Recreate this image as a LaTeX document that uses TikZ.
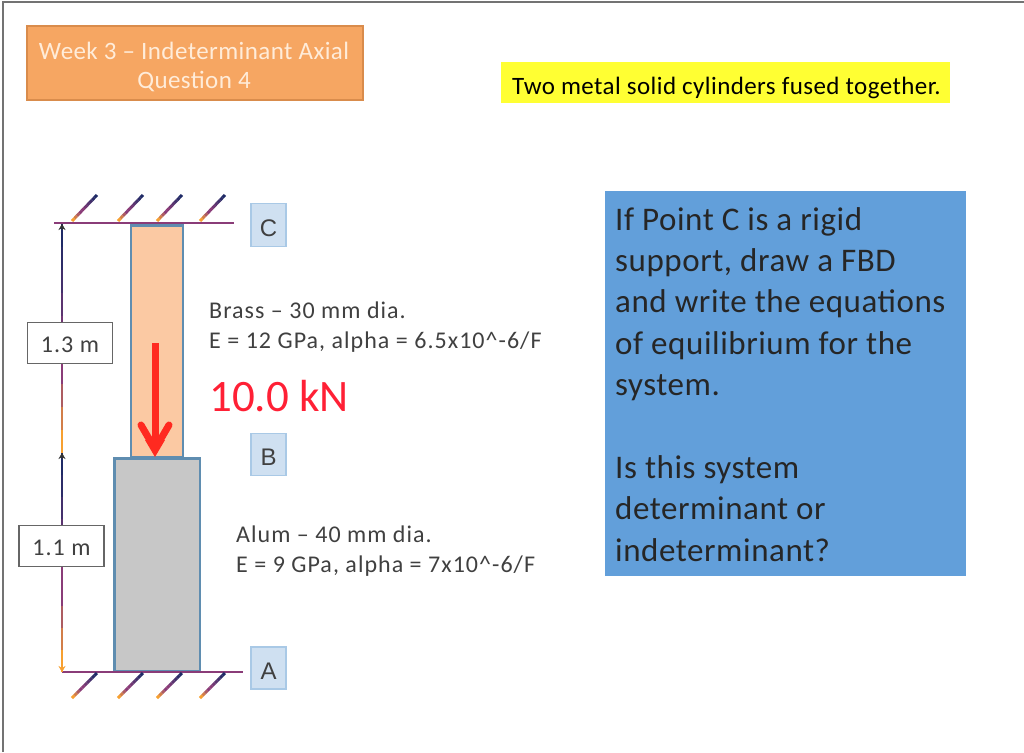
\documentclass[tikz,border=0pt]{standalone}
\usepackage{fontspec}
\setmainfont{Carlito}
\newfontfamily\lblfont{Liberation Sans}
\newfontfamily\widefont[LetterSpace=4.3]{Carlito}
\newfontfamily\slightfont[LetterSpace=1.7]{Carlito}
\usetikzlibrary{arrows.meta}
\usetikzlibrary{calc}
\definecolor{rod_edge}{HTML}{5F8DB0}
\definecolor{lbl_fill}{HTML}{CFE0F1}
\definecolor{lbl_edge}{HTML}{A9C9E6}
\definecolor{txt_grey}{HTML}{404040}
\definecolor{line_top}{HTML}{1F2A66}
\definecolor{line_mid}{HTML}{8A3C78}
\definecolor{line_end}{HTML}{F7A030}
\definecolor{title_fill}{HTML}{F6A662}
\definecolor{title_edge}{HTML}{D98C4C}
\definecolor{task_fill}{HTML}{629FDA}
\definecolor{brass_fill}{HTML}{FBC9A3}
\definecolor{note_fill}{HTML}{FFFF33}
\definecolor{load_red}{HTML}{FF2A20}
\definecolor{force_red}{HTML}{FF2035}
\tikzset{
	txtnode/.style = {align=left, inner sep=0pt, anchor=west, text=txt_grey},
	rod_b/.style = {rectangle, draw=rod_edge, line width=2.5pt, fill=#1, inner sep=0pt, anchor=north west},% cylinder
	lbl_p/.style = {rectangle, draw=lbl_edge, line width=1.2pt, fill=lbl_fill, minimum width=35pt,
		minimum height=42pt, inner sep=0pt, text=txt_grey, text height=22pt, text depth=0pt,
		font=\lblfont\fontsize{24}{24}\selectfont},% point letter
	lbl_d/.style = {rectangle, draw=black!60, line width=1.3pt, fill=white, minimum width=85pt,
		minimum height=41pt, inner sep=0pt, text=txt_grey, text height=22pt, text depth=4pt,
		font=\widefont\fontsize{24}{24}\selectfont},% dimension box
	wall/.style = {line_mid, line width=2.8pt},
	loadline/.style = {load_red, line width=7pt}
}
% line that runs from orange to navy, first point is the orange end
\newcommand{\gradline}[3]{%
	\foreach \s in {0,...,9}{
		\pgfmathtruncatemacro{\e}{\s+1}
		\pgfmathtruncatemacro{\pa}{min(100,\s*34)}
		\pgfmathtruncatemacro{\pb}{min(100,max(0,(\s-4)*22))}
		\colorlet{segcol}{line_top!\pb!line_mid!\pa!line_end}
		\draw[segcol, line width=#3] ($(#1)!\s/10!(#2)$) -- ($(#1)!\e/10!(#2)$);
	}
}
\begin{document}
\begin{tikzpicture}[x=1pt,y=-1pt]
	\useasboundingbox (0,0) rectangle (1024,752);
	\draw[black!55, line width=2pt] (3,752) -- (3,2) -- (1024,2);

	\node [rectangle, draw=title_edge, line width=1.5pt, fill=title_fill, minimum width=336pt, minimum height=74pt,
		inner sep=0pt] (title) at (195,63) {};
	\node [inner sep=0pt, align=center, text=white!85!orange, font=\slightfont\fontsize{25}{29.5}\selectfont] (titletxt) at (194,67)
		{Week 3 – Indeterminant Axial\\Question 4};
	\node [rectangle, fill=note_fill, minimum width=449pt, minimum height=41pt, inner sep=0pt] (note) at (725.5,82.5) {};
	\node [inner sep=0pt, font=\slightfont\fontsize{25}{25}\selectfont] (notetxt) at (726.5,88) {Two metal solid cylinders fused together.};
	\node [rectangle, fill=task_fill, minimum width=361pt, minimum height=385pt, inner sep=0pt] (task) at (785.5,383.5) {};
	\node [txtnode, anchor=north west, text=black!85, font=\slightfont\fontsize{33}{41.4}\selectfont] (tasktxt) at (615,207)
		{If Point C is a rigid\\support, draw a FBD\\and write the equations\\of equilibrium for the\\system.\\[41.4pt]Is this system\\determinant or\\indeterminant?};

	% cylinders
	\node [rod_b=brass_fill, minimum width=52pt, minimum height=232pt] (brass) at (129.5,224) {};
	\node [rod_b=black!22, minimum width=85.5pt, minimum height=213pt] (alum) at (113,457) {};

	% walls
	\coordinate (wallCl) at (54,223);
	\coordinate (wallCr) at (234,223);
	\coordinate (wallAl) at (62,672);
	\coordinate (wallAr) at (243,672);
	\draw[wall] (wallCl) -- (wallCr);
	\draw[wall] (wallAl) -- (wallAr);
	\foreach \x/\n in {72/1,118/2,157/3,200/4}{
		\coordinate (hC\n) at (\x,221);
		\coordinate (tC\n) at (\x+25,195);
		\gradline{hC\n}{tC\n}{3pt}
		\coordinate (hA\n) at (\x,698);
		\coordinate (tA\n) at (\x+25,673);
		\gradline{hA\n}{tA\n}{3pt}
	}

	% dimensions
	\coordinate (dimC) at (62,224);
	\coordinate (dimB) at (62,453);
	\coordinate (dimA) at (62,672);
	\gradline{dimB}{dimC}{2.4pt}
	\gradline{dimA}{dimB}{2.4pt}
	\draw[-{Stealth[length=6pt,width=7pt]}, black!80, line width=.5pt] ($(dimC)+(0,6)$) -- (dimC);
	\draw[-{Stealth[length=6pt,width=7pt]}, black!80, line width=.5pt] ($(dimB)+(0,6)$) -- (dimB);
	\draw[-{Stealth[length=6pt,width=7pt]}, line_end, line width=.5pt] ($(dimA)+(0,-6)$) -- (dimA);
	\node [lbl_d] (len1) at (70,343) {1.3 m};
	\node [lbl_d] (len2) at (61.5,546) {1.1 m};

	% load
	\coordinate (loadTop) at (155,343);
	\coordinate (loadTip) at (155,449);
	\coordinate (loadL) at (141,425);
	\coordinate (loadR) at (169,425);
	\coordinate (loadEnd) at (155,457);
	\draw[loadline] (loadTop) -- (loadTip);
	\draw[loadline, line cap=round, line join=miter] (loadL) -- (loadTip) -- (loadR);
	\fill[load_red] (145,440) -- (165,440) -- (loadEnd) -- cycle;

	\node [lbl_p, minimum height=43pt] (ptC) at (268.5,225) {C};
	\node [lbl_p] (ptB) at (268.5,454.5) {B};
	\node [lbl_p] (ptA) at (268.5,668) {A};

	\node [txtnode, font=\widefont\fontsize{24}{30}\selectfont] (brasstxt) at (209,327)
		{Brass – 30 mm dia.\\E = 12 GPa, alpha = 6.5x10\^{}-6/F};
	\node [txtnode, text=force_red, font=\fontsize{45}{45}\selectfont] (force) at (209,396) {10.0 kN};
	\node [txtnode, font=\widefont\fontsize{24}{30}\selectfont] (alumtxt) at (236,551)
		{Alum – 40 mm dia.\\E = 9 GPa, alpha = 7x10\^{}-6/F};
\end{tikzpicture}
\end{document}
